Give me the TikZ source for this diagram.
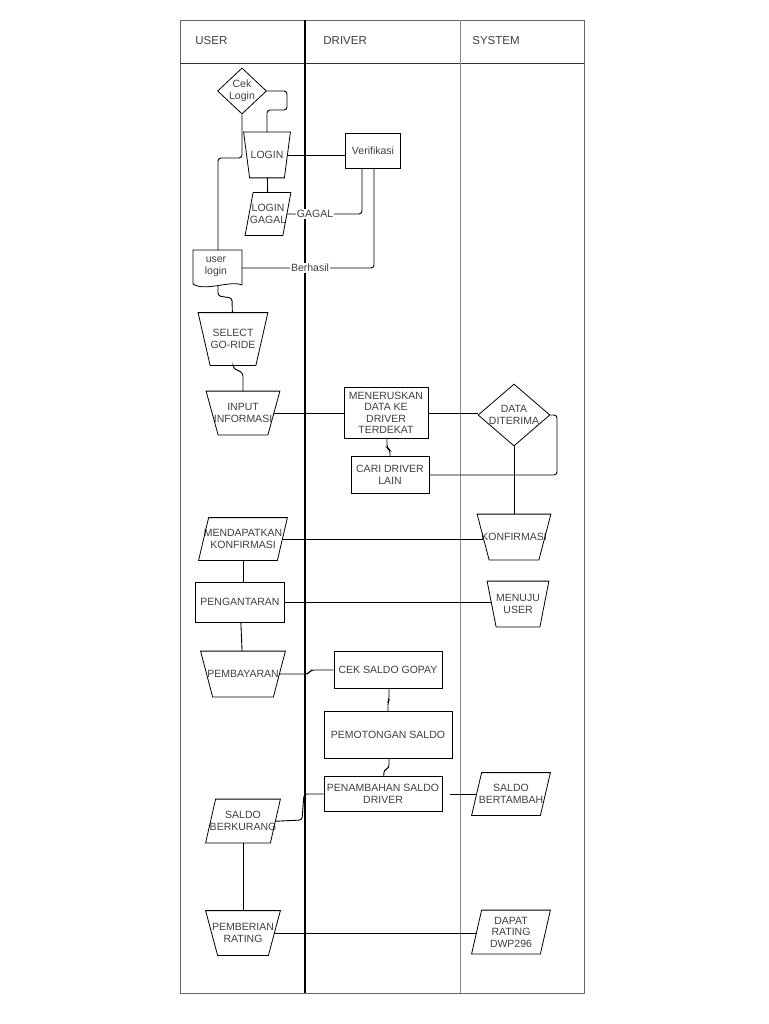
\documentclass[tikz,border=0pt]{standalone}
\usepackage{fontspec}
\setmainfont{Liberation Sans}
\usetikzlibrary{shapes.geometric}
\newcommand{\trapz}[2]{\draw[line width=0.8pt] (#1.north west) -- (#1.north east) -- ([xshift=-#2pt]#1.south east) -- ([xshift=#2pt]#1.south west) -- cycle;}
\newcommand{\paraz}[2]{\draw[line width=0.8pt] ([xshift=#2pt]#1.north west) -- (#1.north east) -- ([xshift=-#2pt]#1.south east) -- (#1.south west) -- cycle;}
\begin{document}
\begin{tikzpicture}[x=1pt,y=-1pt,
  every node/.style={font=\fontsize{10.5}{11.5}\selectfont, text=black!75, align=center, inner sep=0pt, line width=0.8pt},
  ln/.style={line width=0.9pt, rounded corners=3pt},
  rbox/.style={draw, rectangle, inner sep=0pt},
  sh/.style={rectangle, inner sep=0pt},
  dia/.style={draw, diamond, aspect=1}]
\useasboundingbox (0,0) rectangle (768,1024);
\fill[white] (0,0) rectangle (768,1024);
% frame
\draw[black!60, line width=0.7pt] (180,20) rectangle (584,993);
\draw[black!80, line width=0.8pt] (180,63) -- (584,63);
\draw[black, line width=1.2pt] (305,20) -- (305,993);
\draw[black!45, line width=0.6pt] (460,20) -- (460,993);
\node[anchor=west, font=\fontsize{11.5}{13}\selectfont] (hu) at (195,41) {USER};
\node[anchor=west, font=\fontsize{11.5}{13}\selectfont] (hd) at (323,41) {DRIVER};
\node[anchor=west, font=\fontsize{11.5}{13}\selectfont] (hs) at (472,41) {SYSTEM};
% nodes
\node[dia, minimum width=49, minimum height=46, aspect=1.06] (cek) at (242,91) {Cek\\Login};
\node[sh, minimum width=46, minimum height=45] (login) at (267,155) {LOGIN}; \trapz{login}{6}
\node[rbox, minimum width=55, minimum height=35] (verif) at (373,151) {Verifikasi};
\node[sh, minimum width=45, minimum height=42] (gagal) at (268,214) {LOGIN\\GAGAL}; \paraz{gagal}{8}
\node[minimum width=49, minimum height=34] (ulogin) at (216,267) {user\\login};
\draw[line width=0.8pt] (193,250) -- (242,250) -- (242,285) .. controls (230,280) and (205,292) .. (193,284) -- cycle;
\node[sh, minimum width=69, minimum height=52] (select) at (233,339) {SELECT\\GO-RIDE}; \trapz{select}{12}
\node[sh, minimum width=73, minimum height=43] (input) at (243,413) {INPUT\\INFORMASI}; \trapz{input}{12}
\node[rbox, minimum width=84, minimum height=51] (terus) at (386,413) {MENERUSKAN\\DATA KE\\DRIVER\\TERDEKAT};
\node[dia, minimum width=64, minimum height=55, aspect=1.16] (data) at (514,415) {DATA\\DITERIMA};
\node[rbox, minimum width=78, minimum height=37] (cari) at (390,475) {CARI DRIVER\\LAIN};
\node[sh, minimum width=88, minimum height=42] (mendapat) at (243,539) {MENDAPATKAN\\KONFIRMASI}; \paraz{mendapat}{10}
\node[sh, minimum width=73, minimum height=45] (konf) at (514,537) {KONFIRMASI}; \trapz{konf}{12}
\node[rbox, minimum width=89, minimum height=40] (antar) at (240,602) {PENGANTARAN};
\node[sh, minimum width=61, minimum height=45] (menuju) at (518,604) {MENUJU\\USER}; \trapz{menuju}{9}
\node[sh, minimum width=84, minimum height=45] (bayar) at (243,674) {PEMBAYARAN}; \trapz{bayar}{12}
\node[rbox, minimum width=108, minimum height=37] (ceksaldo) at (388,670) {CEK SALDO GOPAY};
\node[rbox, minimum width=128, minimum height=47] (potong) at (388,735) {PEMOTONGAN SALDO};
\node[rbox, minimum width=118, minimum height=35] (tambah) at (383,794) {PENAMBAHAN SALDO\\DRIVER};
\node[sh, minimum width=78, minimum height=42] (bertambah) at (511,794) {SALDO\\BERTAMBAH}; \paraz{bertambah}{10}
\node[sh, minimum width=74, minimum height=43] (berkurang) at (243,821) {SALDO\\BERKURANG}; \paraz{berkurang}{10}
\node[sh, minimum width=74, minimum height=44] (rating) at (243,933) {PEMBERIAN\\RATING}; \trapz{rating}{12}
\node[sh, minimum width=78, minimum height=43] (dapat) at (511,932) {DAPAT\\RATING\\DWP296}; \paraz{dapat}{10}
% connectors
\coordinate (ulT) at (218,250);
\coordinate (ulB) at (218,286);
\draw[ln] (cek.east) -- (287,91) -- (287,110) -- (267,110) -- (login);
\draw[ln] (cek.south) -- (242,158) -- (218,158) -- (ulT);
\draw[ln, shorten <=-3pt] (login.east) -- (verif.west |- login.east);
\draw[ln] (login) -- (gagal);
\draw[ln, shorten >=-4pt] (362,168) -- (362,214) -- (gagal.east);
\node[fill=white, inner sep=1pt] (lg) at (315,214) {GAGAL};
\draw[ln] (374,168) -- (374,268) -- (242,268);
\node[fill=white, inner sep=1pt] (lb) at (310,268) {Berhasil};
\draw[ln] (ulB) -- (218,296) -- (232,298) -- (select);
\draw[ln] (select) -- (233,368) -- (243,373) -- (input);
\draw[ln, shorten <=-6pt] (input.east) -- (terus.west);
\draw[ln] (terus.east) -- (data.west |- terus.east);
\draw[ln] (data.east) -- (557,415) -- (557,475) -- (cari.east);
\draw[ln] (387,439) -- (387,448) -- (390,450) -- (cari);
\draw[ln] (data) -- (konf);
\draw[ln, shorten <=-5pt, shorten >=-6pt] (mendapat.east) -- (konf.west |- mendapat.east);
\draw[ln] (mendapat) -- (243,582);
\draw[ln, shorten >=-4pt] (antar.east) -- (menuju.west |- antar.east);
\draw[ln] (antar) -- (bayar);
\draw[ln, shorten <=-6pt] (bayar.east) -- (308,674) -- (311,670) -- (ceksaldo.west);
\draw[ln] (389,689) -- (389,700) -- (388,702) -- (potong);
\draw[ln] (389,759) -- (389,768) -- (384,770) -- (tambah);
\draw[ln, shorten >=-5pt] (tambah.west) -- (304,794) -- (302,820) -- (berkurang.east);
\draw[ln, shorten <=8pt, shorten >=-5pt] (tambah.east) -- (bertambah.west);
\draw[ln] (berkurang) -- (rating);
\draw[ln, shorten <=-6pt, shorten >=-5pt] (rating.east) -- (dapat.west |- rating.east);
\end{tikzpicture}
\end{document}
